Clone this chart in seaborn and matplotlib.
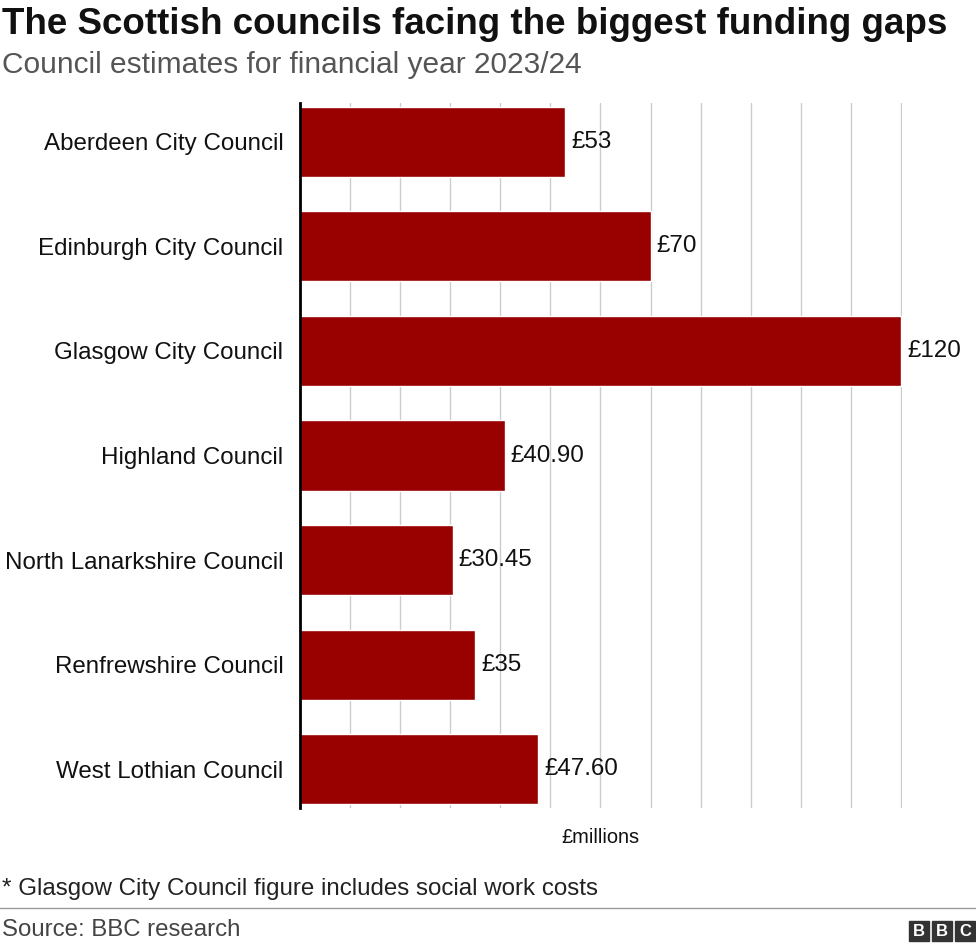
import matplotlib
matplotlib.use("Agg")
import matplotlib.pyplot as plt
import seaborn as sns
import pandas as pd
from matplotlib.patches import Rectangle
from matplotlib.lines import Line2D

councils = ["Aberdeen City Council", "Edinburgh City Council", "Glasgow City Council",
            "Highland Council", "North Lanarkshire Council", "Renfrewshire Council",
            "West Lothian Council"]
values = [53, 70, 120, 40.90, 30.45, 35, 47.60]
labels = ["£53", "£70", "£120", "£40.90", "£30.45", "£35", "£47.60"]

sns.set_theme(style="white")
plt.rcParams['font.family'] = ['Liberation Sans', 'DejaVu Sans']

fig = plt.figure(figsize=(9.76, 9.5), dpi=100)
ax = fig.add_axes([300/976, 1-808/950, 602/976, 705/950])
df = pd.DataFrame({"c": councils, "v": values})
sns.barplot(data=df, x="v", y="c", color="#990000", saturation=1, width=0.67, ax=ax)
ax.set_xlim(0, 120.2)
ax.set_ylim(6.37, -0.37)
ax.set_xticks(range(0, 121, 10))
ax.set_xticklabels([])
ax.grid(axis="x", color="#cccccc", lw=1)
ax.set_axisbelow(True)
for s in ["top", "right", "bottom"]:
    ax.spines[s].set_visible(False)
ax.spines["left"].set_color("black")
ax.spines["left"].set_linewidth(2)
ax.tick_params(axis="both", length=0)
ax.set_xlabel("")
ax.set_ylabel("")
ax.tick_params(axis="y", labelsize=17.4, pad=12, labelcolor="#111111")
for i, (v, l) in enumerate(zip(values, labels)):
    ax.text(v + 1.2, i, l, va="center", ha="left", fontsize=17.4, color="#111111", clip_on=False)
ax.text(60, 6.65, "£millions", ha="center", va="center", fontsize=14.4, color="#111111")

fig.text(2/976, 1-24/950, "The Scottish councils facing the biggest funding gaps",
         fontsize=26.5, fontweight="bold", va="center", ha="left", color="#111111")
fig.text(2/976, 1-65/950, "Council estimates for financial year 2023/24",
         fontsize=21.5, va="center", ha="left", color="#555555")
fig.text(2/976, 1-889/950, "* Glasgow City Council figure includes social work costs",
         fontsize=17.4, va="center", ha="left", color="#222222")
fig.add_artist(Line2D([0, 1], [1-908/950]*2, color="#999999", lw=1))
fig.text(2/976, 1-930/950, "Source: BBC research", fontsize=17.3, va="center", ha="left", color="#444444")
for k, ch in enumerate("BBC"):
    x0 = (909 + k*23)/976
    fig.add_artist(Rectangle((x0, 1-941/950), 20/976, 20/950, color="#333333"))
    fig.text(x0 + 10/976, 1-931/950, ch, fontsize=12, fontweight="bold", color="white",
             ha="center", va="center")
fig.savefig("out.png", dpi=100)
